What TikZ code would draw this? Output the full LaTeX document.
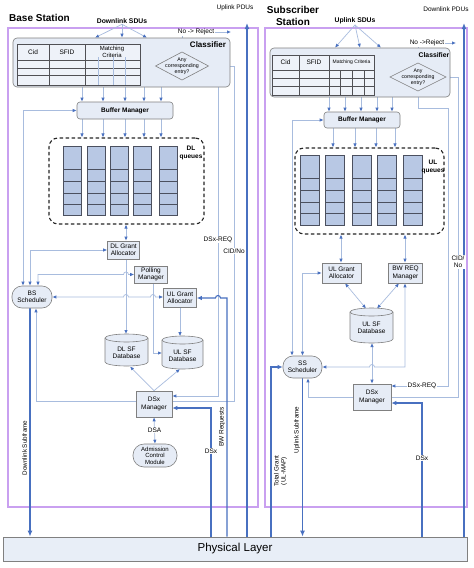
\documentclass[tikz,border=0pt]{standalone}
\usepackage{fontspec}
\setmainfont{Liberation Sans}
\usetikzlibrary{arrows.meta,backgrounds,calc}
\definecolor{frameviolet}{RGB}{201,160,240}
\definecolor{arrowblue}{RGB}{72,112,192}
\definecolor{lightline}{RGB}{168,188,222}
\definecolor{boxfill}{RGB}{230,236,246}
\definecolor{boxdraw}{RGB}{128,128,128}
\definecolor{tabfill}{RGB}{238,242,249}
\definecolor{tabdraw}{RGB}{80,80,85}
\definecolor{qfill}{RGB}{184,200,228}
\definecolor{qdraw}{RGB}{75,80,95}
\definecolor{phyfill}{RGB}{232,238,247}
\newcommand\fsz[2]{\fontsize{#1}{#2}\selectfont}
\begin{document}
\begin{tikzpicture}[x=1pt,y=-1pt,
  box/.style={draw=boxdraw, fill=boxfill, line width=0.6pt, align=center, inner sep=0pt, font=\fsz{6.5}{7.3}},
  rbox/.style={box, rounded corners=3pt},
  pill/.style={box, rounded corners=10pt},
  lbl/.style={inner sep=0.6pt, font=\fsz{6.5}{7.3}, align=center},
  wlbl/.style={lbl, fill=white},
  lite/.style={draw=lightline, line width=0.7pt},
  onearr/.style={-{Latex[length=4pt,width=3.4pt,color=arrowblue]}},
  twoarr/.style={{Latex[length=4pt,width=3.4pt,color=arrowblue]}-{Latex[length=4pt,width=3.4pt,color=arrowblue]}},
  thickarr/.style={draw=arrowblue, line width=1.5pt, -{Latex[length=6pt,width=5pt]}},
  medarr/.style={draw=arrowblue, line width=1.1pt, -{Latex[length=5pt,width=4.4pt]}},
  cellline/.style={draw=tabdraw, line width=0.6pt},
  qcell/.style={draw=qdraw, fill=qfill, line width=0.6pt},
  dbshape/.style={draw=boxdraw, fill=boxfill, line width=0.6pt},
]
\useasboundingbox (0,0) rectangle (474,568);

% ================= Base Station =================
\node[lbl, font=\bfseries\fsz{10}{12}] (bstitle) at (39.5,18) {Base Station};
\node[lbl, font=\bfseries\fsz{6.8}{8}] (dlsdu) at (122,21) {Downlink SDUs};
\node[lbl] (ulpdu) at (235,8) {Uplink PDUs};
\coordinate (ulpdutip) at (247,23);

\node[box, rounded corners=4pt, minimum width=217pt, minimum height=49pt] (bscls) at (121.5,62.5) {};
\node[lbl, font=\bfseries\fsz{8}{9}] (bsclslbl) at (208,45) {Classifier};
\node[draw=tabdraw, fill=tabfill, line width=0.6pt, minimum width=123pt, minimum height=41pt, inner sep=0pt] (bstab) at (78.5,64.5) {};
\draw[cellline] (49,44)--(49,85) (85,44)--(85,85) (17,60)--(140,60) (17,68)--(140,68) (17,75)--(140,75);
\draw[lightline, line width=0.5pt] (98,57)--(98,85) (113,57)--(113,85) (125,57)--(125,85);
\node[lbl] (bsh1) at (33,52) {Cid};
\node[lbl] (bsh2) at (67,52) {SFID};
\node[lbl, font=\fsz{6}{6.8}] (bsh3) at (112,52) {Matching\\Criteria};
\filldraw[dbshape] (155.5,66)--(182,52)--(208.5,66)--(182,80)--cycle;
\node[lbl, font=\fsz{5.3}{6}, minimum width=53pt, minimum height=28pt, inner sep=0pt] (bsdia) at (182,66) {Any\\corresponding\\entry?};
\node[lbl] (bsrej) at (196,32) {No -> Reject};
\coordinate (bsrejend) at (231,32);

\node[rbox, font=\bfseries\fsz{6.5}{7.3}, minimum width=96pt, minimum height=17pt] (bsbuf) at (125,110.5) {Buffer Manager};
\node[draw=black!85, line width=1.1pt, dash pattern=on 3.5pt off 2.5pt, rounded corners=9pt, minimum width=155pt, minimum height=86pt, inner sep=0pt] (bsq) at (126.5,181) {};
\foreach \qx in {63,87,110,133,159} {
  \draw[qcell] (\qx,146) rectangle ++(18,69);
  \foreach \py in {169,181,193,204} \draw[qdraw, line width=0.6pt] (\qx,\py) -- ++(18,0);
}
\node[lbl, font=\bfseries\fsz{6.5}{7.5}] (bsqlbl) at (191,153) {DL\\queues};

\node[box, minimum width=32pt, minimum height=18pt] (bsdlg) at (123.5,250) {DL Grant\\Allocator};
\node[box, minimum width=33pt, minimum height=17pt] (bspoll) at (151,274.5) {Polling\\Manager};
\node[box, minimum width=33pt, minimum height=19pt] (bsulg) at (180,297.5) {UL Grant\\Allocator};
\node[pill, minimum width=40pt, minimum height=22pt] (bssch) at (32,297) {BS\\Scheduler};
\node[box, minimum width=36pt, minimum height=26pt] (bsdsx) at (154,404) {DSx\\Manager};
\node[box, rounded corners=11pt, minimum width=44pt, minimum height=23pt, font=\fsz{6}{6.6}] (bsacm) at (155,455.5) {Admission\\Control\\Module};

% databases
\filldraw[dbshape] (105,338) -- (105,362) arc[start angle=180, end angle=360, x radius=21.5pt, y radius=4pt] -- (148,338) arc[start angle=0, end angle=180, x radius=21.5pt, y radius=4pt] -- cycle;
\draw[dbshape, fill=none] (105,338) arc[start angle=180, end angle=360, x radius=21.5pt, y radius=4pt];
\node[lbl] (bsdldb) at (126.5,353) {DL SF\\Database};
\coordinate (bsdldbtop) at (126,334);
\coordinate (bsdldbbot) at (130,366.5);
\filldraw[dbshape] (162,340) -- (162,365) arc[start angle=180, end angle=360, x radius=20.5pt, y radius=4pt] -- (203,340) arc[start angle=0, end angle=180, x radius=20.5pt, y radius=4pt] -- cycle;
\draw[dbshape, fill=none] (162,340) arc[start angle=180, end angle=360, x radius=20.5pt, y radius=4pt];
\node[lbl] (bsuldb) at (182.5,356) {UL SF\\Database};
\coordinate (bsuldbtop) at (180,336.2);
\coordinate (bsuldbbot) at (180,369);
\coordinate (bsuldbleft) at (162,353);

% ================= Subscriber Station =================
\node[lbl, font=\bfseries\fsz{10}{12}] (sstitle) at (293,16) {Subscriber\\Station};
\node[lbl, font=\bfseries\fsz{6.8}{8}] (ulsdu) at (355,21) {Uplink SDUs};
\node[lbl] (dlpdu) at (446,9) {Downlink PDUs};
\coordinate (dlpdutip) at (464,23);

\node[box, rounded corners=4pt, minimum width=180pt, minimum height=49pt] (sscls) at (360,72.5) {};
\node[lbl, font=\bfseries\fsz{6.8}{8}] (ssclslbl) at (434,55) {Classifier};
\node[draw=tabdraw, fill=tabfill, line width=0.6pt, minimum width=102pt, minimum height=40pt, inner sep=0pt] (sstab) at (323,75) {};
\draw[cellline] (299,55)--(299,95) (329,55)--(329,95) (272,70)--(374,70) (272,78)--(374,78) (272,86)--(374,86);
\draw[cellline, line width=0.4pt] (340,70)--(340,95) (352,70)--(352,95) (364,70)--(364,95);
\node[lbl] (ssh1) at (285.5,62.5) {Cid};
\node[lbl] (ssh2) at (314,62.5) {SFID};
\node[lbl, font=\fsz{5}{6}] (ssh3) at (351.5,62.5) {Matching Criteria};
\filldraw[dbshape] (390,77)--(418,63)--(446,77)--(418,91)--cycle;
\node[lbl, font=\fsz{5.2}{5.9}, minimum width=56pt, minimum height=28pt, inner sep=0pt] (ssdia) at (418,77) {Any\\corresponding\\entry?};
\node[lbl] (ssrej) at (427,43) {No ->Reject};
\coordinate (ssrejend) at (456,43);

\node[rbox, font=\bfseries\fsz{6.5}{7.3}, minimum width=76pt, minimum height=16pt] (ssbuf) at (362,120) {Buffer Manager};
\node[draw=black!85, line width=1.1pt, dash pattern=on 3.5pt off 2.5pt, rounded corners=9pt, minimum width=149pt, minimum height=86pt, inner sep=0pt] (ssq) at (369.5,191) {};
\foreach \qx in {300,325,352,377,403} {
  \draw[qcell] (\qx,155) rectangle ++(19,70);
  \foreach \py in {178,190,202,213} \draw[qdraw, line width=0.6pt] (\qx,\py) -- ++(19,0);
}
\node[lbl, font=\bfseries\fsz{6.5}{7.5}] (ssqlbl) at (433,167) {UL\\queues};

\node[box, minimum width=39pt, minimum height=20pt] (ssulg) at (341.5,273) {UL Grant\\Allocator};
\node[box, minimum width=34pt, minimum height=20pt] (ssbwr) at (405.5,273) {BW REQ\\Manager};
\filldraw[dbshape] (350,312) -- (350,339) arc[start angle=180, end angle=360, x radius=21.5pt, y radius=4pt] -- (393,312) arc[start angle=0, end angle=180, x radius=21.5pt, y radius=4pt] -- cycle;
\draw[dbshape, fill=none] (350,312) arc[start angle=180, end angle=360, x radius=21.5pt, y radius=4pt];
\node[lbl] (ssuldb) at (371.5,328) {UL SF\\Database};
\coordinate (ssdbtopl) at (366,308.5);
\coordinate (ssdbtopr) at (377,308.5);
\coordinate (ssdbbot) at (372,343);
\node[pill, minimum width=39pt, minimum height=22pt] (ssch) at (302.5,367) {SS\\Scheduler};
\node[box, minimum width=38pt, minimum height=26pt] (ssdsx) at (372,397) {DSx\\Manager};

% ================= Physical layer =================
\node[draw=boxdraw, fill=phyfill, line width=0.8pt, minimum width=464pt, minimum height=24pt, inner sep=0pt, font=\fsz{11.5}{13}] (phy) at (235,549) {Physical Layer};

% ---------- labels on lines ----------
\node[lbl, rotate=90, font=\fsz{6.3}{7}] (lbldlsf) at (24.5,448) {Downlink Subframe};
\node[wlbl] (lblcidbs) at (234,251) {CID/No};
\node[wlbl] (lbldsxreqbs) at (218,240) {DSx-REQ};
\node[lbl, rotate=90] (lblbwr) at (222,427) {BW Requests};
\node[wlbl] (lbldsxbs) at (211,451) {DSx};
\node[lbl, rotate=90, font=\fsz{6.3}{7}] (lblulsf) at (297,430) {Uplink Subframe};
\node[lbl, rotate=90, font=\fsz{6.3}{7}] (lbltg) at (280.5,471) {Total Grant\\(UL-MAP)};
\node[wlbl] (lblcidss) at (458,262) {CID/\\No};
\node[wlbl] (lbldsxreqss) at (422,386) {DSx-REQ};
\node[wlbl] (lbldsxss) at (422,458) {DSx};

\begin{scope}[on background layer]
\fill[white] (0,0) rectangle (474,568);
\draw[frameviolet, line width=2.6pt] (8,28) rectangle (258,507);
\draw[frameviolet, line width=2.6pt] (265,28) rectangle (467,507);

% ---- BS connectors ----
\foreach \fx in {95,122,147} \draw[lite, onearr] (dlsdu.south) -- (\fx,0 |- bscls.north);
\draw[lite] (bsdia.north) -- (bsdia.north |- bsrej.south);
\draw[lite, onearr] (bsrej.east) -- (bsrejend);
\draw[lite, twoarr] (bstab.east |- bsdia.west) -- (bsdia.west);
\foreach \fx in {82,103,125,144,161} {
  \draw[lite, onearr] (\fx,0 |- bscls.south) -- (\fx,0 |- bsbuf.north);
  \draw[lite, onearr] (\fx,0 |- bsbuf.south) -- (\fx,0 |- bsq.north);
}
\draw[lite, twoarr] (126,0 |- bsq.south) -- (126,0 |- bsdlg.north);
\draw[lite, onearr] (126,0 |- bsdlg.south) -- (bsdldbtop);
\draw[lite, onearr] (153,0 |- bspoll.south) -- (153,0 |- bsuldbleft) -- (bsuldbleft);
\draw[lite, onearr] (bsulg.south) -- (bsuldbtop);
\draw[lite, onearr] (bsdsx.north) -- (bsdldbbot);
\draw[lite, onearr] (bsdsx.north) -- (bsuldbbot);
\draw[lite, twoarr] (bsdsx.south) -- (bsacm.north);
\node[wlbl] (lbldsa) at ($(bsdsx.south)!0.5!(bsacm.north)$) {DSA};
\draw[lite, twoarr] (23,0 |- bssch.north) -- (23,0 |- bsbuf.west) -- (bsbuf.west);
\draw[lite, twoarr] (30,0 |- bssch.north) -- (30,0 |- bsdlg.west) -- (bsdlg.west);
\draw[lite, twoarr] (38,0 |- bssch.north) -- (38,0 |- bspoll.west) -- (123.5,274.5) arc[start angle=180, end angle=0, radius=2.5pt] -- (bspoll.west);
\draw[lite, twoarr] (bssch.east) -- (123.5,297) arc[start angle=180, end angle=0, radius=2.5pt] -- (150.5,297) arc[start angle=180, end angle=0, radius=2.5pt] -- (bsulg.west |- bssch.east);
\draw[thickarr] (30,0 |- bssch.south) -- (30,0 |- phy.north);
\draw[lite, twoarr] (36,0 |- bssch.south) -- (36,401) -- (234,401) -- (234,0 |- bsdia.east) -- (bsdia.east);
\draw[lite, onearr] (bsdia.south) -- (218,0 |- bsdia.south) -- (218,396) -- (bsdsx.east |- 0,396);
\draw[medarr] (227,0 |- phy.north) -- (227,298) -- (220.5,298) arc[start angle=0, end angle=180, radius=2.5pt] -- (bsulg.east |- 0,298);
\draw[medarr] (211,0 |- phy.north) -- (211,408) -- (bsdsx.east |- 0,408);
\draw[thickarr] (247,0 |- phy.north) -- (ulpdutip);

% ---- SS connectors ----
\foreach \fx in {335,360,381} \draw[lite, onearr] (ulsdu.south) -- (\fx,0 |- sscls.north);
\draw[lite] (ssdia.north) -- (ssdia.north |- ssrej.south);
\draw[lite, onearr] (ssrej.east) -- (ssrejend);
\draw[lite, twoarr] (sstab.east |- ssdia.west) -- (ssdia.west);
\foreach \fx in {329,345,361,377,392} \draw[lite, onearr] (\fx,0 |- sscls.south) -- (\fx,0 |- ssbuf.north);
\foreach \fx in {333,355,376,395} \draw[lite, onearr] (\fx,0 |- ssbuf.south) -- (\fx,0 |- ssq.north);
\draw[lite, twoarr] (341,0 |- ssq.south) -- (341,0 |- ssulg.north);
\draw[lite, twoarr] (405,0 |- ssq.south) -- (405,0 |- ssbwr.north);
\draw[lite, twoarr] (345,0 |- ssulg.south) -- (ssdbtopl);
\draw[lite, twoarr] (399,0 |- ssbwr.south) -- (ssdbtopr);
\draw[lite, twoarr] (ssdbbot) -- (ssdsx.north);
\draw[lite, twoarr] (405,0 |- ssbwr.south) -- (405,367) -- (374.5,367) arc[start angle=0, end angle=180, radius=2.5pt] -- (ssch.east);
\draw[lite, twoarr] (292,0 |- ssch.north) -- (292,0 |- ssbuf.west) -- (ssbuf.west);
\draw[lite, twoarr] (ssch.north) -- (ssch.north |- ssulg.west) -- (ssulg.west);
\draw[thickarr] (ssch.south) -- (ssch.south |- phy.north);
\draw[lite, twoarr] (308,0 |- ssch.south) -- (308,397) -- (458,397) -- (458,0 |- ssdia.east) -- (ssdia.east);
\draw[medarr] (271,0 |- phy.north) -- (271,0 |- ssch.west) -- (ssch.west);
\draw[lite, onearr] (ssdia.south) -- (418,108) -- (448,108) -- (448,386) -- (ssdsx.east |- 0,386);
\draw[medarr] (422,0 |- phy.north) -- (422,403) -- (ssdsx.east |- 0,403);
\draw[thickarr] (464,0 |- phy.north) -- (dlpdutip);
\end{scope}
\end{tikzpicture}
\end{document}
